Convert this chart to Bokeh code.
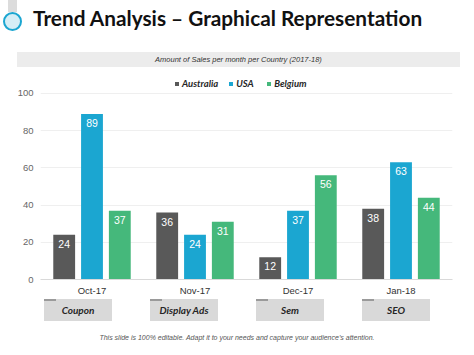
from bokeh.plotting import figure
from bokeh.layouts import column
from bokeh.models import (ColumnDataSource, FactorRange, Range1d, LabelSet,
                          SingleIntervalTicker, Legend, LegendItem, Div)
from bokeh.transform import dodge
from bokeh.core.properties import value
from bokeh.embed import file_html
from bokeh.resources import INLINE

# ---- data ----
months = ["Oct-17", "Nov-17", "Dec-17", "Jan-18"]
australia = [24, 36, 12, 38]
usa = [89, 24, 37, 63]
belgium = [37, 31, 56, 44]
channels = ["Coupon", "Display Ads", "Sem", "SEO"]
series_names = ["Australia", "USA", "Belgium"]

title_text = "Trend Analysis \u2013 Graphical Representation"
subtitle_text = "Amount of Sales per month per Country (2017-18)"
footer_text = "This slide is 100% editable. Adapt it to your needs and capture your audience\u2019s attention."

colors = ["#595959", "#1ba6d1", "#45b87b"]
offsets = [-0.27, 0.0, 0.27]

W = 474
H_HEAD, H_MAIN, H_FOOT = 70, 229, 56

# ---------- header ----------
head_html = f"""
<div style="position:relative;width:{W}px;height:{H_HEAD}px;overflow:hidden;background:white;">
  <div style="position:absolute;left:8px;top:0px;width:9px;height:12px;background:#dcdcdc;"></div>
  <div style="position:absolute;left:3px;top:12px;width:15px;height:15px;border:2.5px solid #1ba6d1;
              box-sizing:content-box;border-radius:50%;background:#d5eef6;"></div>
  <div style="position:absolute;left:33px;top:8px;font-family:Lato;font-weight:bold;font-size:20.8px;
              line-height:20px;color:#111111;white-space:nowrap;">{title_text}</div>
  <div style="position:absolute;left:17px;top:52px;width:443px;height:15px;background:#ececec;
              font-family:'Liberation Sans';font-style:italic;font-size:7.5px;line-height:15px;
              color:#333333;text-align:center;white-space:nowrap;">{subtitle_text}</div>
</div>
"""
head = Div(text=head_html, width=W, height=H_HEAD, margin=0)

# ---------- main chart ----------
src = ColumnDataSource(dict(month=months, Australia=australia, USA=usa, Belgium=belgium))

# frame spans canvas y 71..279; 0..100 occupies 279..93, the rest holds the legend
p = figure(width=W, height=H_MAIN, x_range=FactorRange(factors=months, range_padding=0),
           y_range=Range1d(0, 111.8), output_backend="svg", toolbar_location=None,
           min_border_left=40, min_border_right=22, min_border_top=1,
           min_border_bottom=20, title=None, margin=0)
p.outline_line_color = None
p.background_fill_color = "white"
p.border_fill_color = "white"

legend_items = []
for name, col, off in zip(series_names, colors, offsets):
    r = p.vbar(x=dodge("month", off, range=p.x_range), top=name, width=0.212,
               source=src, fill_color=col, line_color=None)
    legend_items.append(LegendItem(label=name, renderers=[r]))
    p.add_layout(LabelSet(x=dodge("month", off, range=p.x_range), y=name, text=name,
                          source=src, text_align="center", text_baseline="top",
                          y_offset=-5, text_color="white",
                          text_font=value("Liberation Sans"), text_font_size="10.5px"))

p.yaxis.ticker = SingleIntervalTicker(interval=20)
p.yaxis.axis_line_color = None
p.yaxis.major_tick_line_color = None
p.yaxis.minor_tick_line_color = None
p.yaxis.major_tick_out = 0
p.yaxis.major_tick_in = 0
p.yaxis.minor_tick_out = 0
p.yaxis.major_label_text_font = "Liberation Sans"
p.yaxis.major_label_text_font_size = "9.5px"
p.yaxis.major_label_text_color = "#666666"
p.yaxis.major_label_standoff = 7

p.xaxis.axis_line_color = "#d9d9d9"
p.xaxis.major_tick_line_color = None
p.xaxis.minor_tick_line_color = None
p.xaxis.major_tick_out = 0
p.xaxis.major_tick_in = 0
p.xaxis.minor_tick_out = 0
p.xaxis.major_label_text_font = "Liberation Sans"
p.xaxis.major_label_text_font_size = "9.5px"
p.xaxis.major_label_text_color = "#333333"
p.xaxis.major_label_standoff = 5
p.xgrid.grid_line_color = None
p.ygrid.grid_line_color = "#efefef"

leg = Legend(items=legend_items, orientation="horizontal", location=(134, 190),
             padding=0, margin=0, spacing=10, label_standoff=3,
             glyph_width=5, glyph_height=5, border_line_color=None,
             background_fill_alpha=0, label_text_font="Lato",
             label_text_font_style="bold italic", label_text_font_size="9.5px",
             label_text_color="#262626", label_height=12)
p.add_layout(leg, "center")

# ---------- footer ----------
box_left = [44, 150, 256, 362]
boxes = "".join(
    f"""<div style="position:absolute;left:{bl}px;top:0px;width:68px;height:22px;background:#d9d9d9;
         font-family:Lato;font-weight:bold;font-style:italic;font-size:10px;line-height:22px;
         color:#262626;text-align:center;white-space:nowrap;">{ch}
         <div style="position:absolute;left:0;top:0;width:12px;height:1.5px;background:#9a9a9a;"></div>
       </div>"""
    for bl, ch in zip(box_left, channels))
foot_html = f"""
<div style="position:relative;width:{W}px;height:{H_FOOT}px;overflow:hidden;background:white;">
  {boxes}
  <div style="position:absolute;left:0px;top:34px;width:{W}px;font-family:'Liberation Sans';
              font-style:italic;font-size:7px;line-height:9px;color:#555555;text-align:center;
              white-space:nowrap;">{footer_text}</div>
</div>
"""
foot = Div(text=foot_html, width=W, height=H_FOOT, margin=0)

layout = column(head, p, foot, spacing=0)
open("out.html", "w").write(file_html(layout, INLINE))
